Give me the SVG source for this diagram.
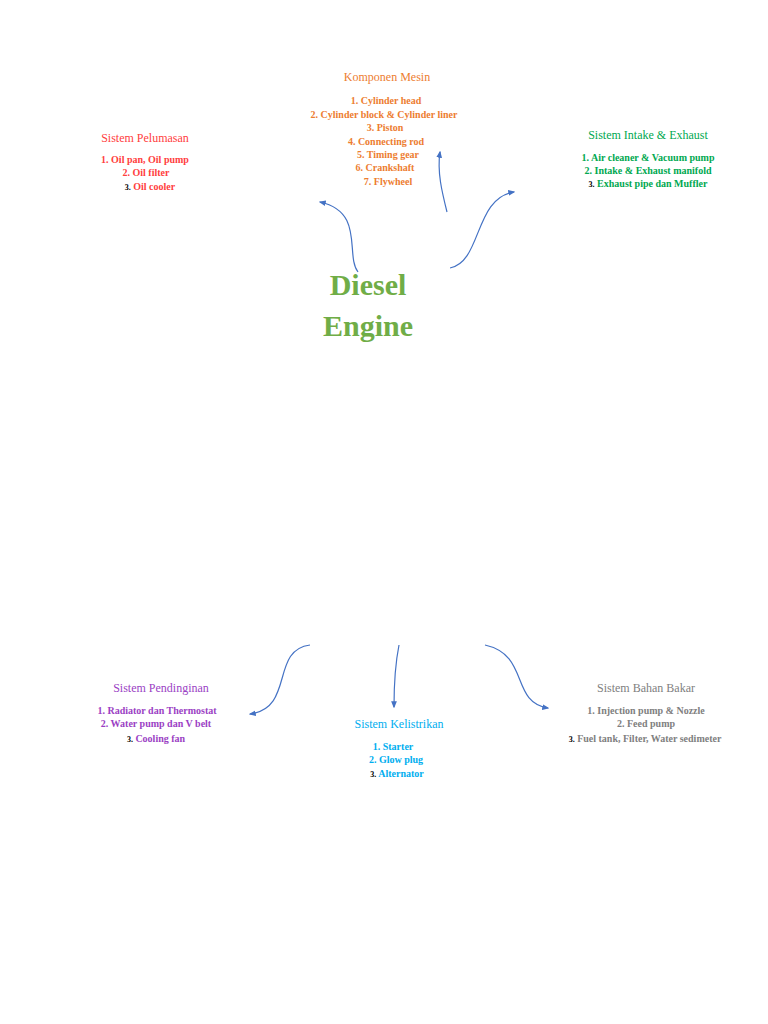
<svg xmlns="http://www.w3.org/2000/svg" width="768" height="1024" viewBox="0 0 768 1024">
<style>
text{font-family:"Liberation Serif","Times New Roman",serif;text-anchor:middle}
.h{font-size:12px}
.i{font-size:10px;font-weight:bold}
.k{fill:#000;font-size:8px}
.or{fill:#ED7D31}.rd{fill:#FF4040}.gr{fill:#00A850}.pu{fill:#9B3FC4}.cy{fill:#00AEEF}.gy{fill:#808080}
.c{fill:none;stroke:#4472C4;stroke-width:1.2;marker-end:url(#a)}
</style>
<defs><marker id="a" viewBox="0 0 10 10" refX="8" refY="5" markerWidth="6" markerHeight="6" orient="auto"><path d="M0,1 L10,5 L0,9 z" fill="#4472C4"/></marker></defs>
<rect width="768" height="1024" fill="#fff"/>
<g id="center"><text x="368" y="295" font-size="30" font-weight="bold" fill="#70AD47">Diesel</text><text x="368" y="336" font-size="30" font-weight="bold" fill="#70AD47">Engine</text></g>
<g id="komponen" class="or">
<text class="h or" x="387" y="81">Komponen Mesin</text>
<text class="i or" x="386" y="104">1.   Cylinder head</text>
<text class="i or" x="384" y="118">2.   Cylinder block &amp; Cylinder liner</text>
<text class="i or" x="385" y="131">3.   Piston</text>
<text class="i or" x="386" y="145">4.   Connecting rod</text>
<text class="i or" x="388" y="158">5.   Timing gear</text>
<text class="i or" x="385" y="171">6.   Crankshaft</text>
<text class="i or" x="388" y="185">7.   Flywheel</text>
</g>
<g id="pelumasan">
<text class="h rd" x="145" y="142">Sistem Pelumasan</text>
<text class="i rd" x="145" y="163">1.   Oil pan, Oil pump</text>
<text class="i rd" x="146" y="176">2.   Oil filter</text>
<text class="i rd" x="150" y="190"><tspan class="k">3.</tspan>   Oil cooler</text>
</g>
<g id="intake">
<text class="h gr" x="648" y="139">Sistem Intake &amp; Exhaust</text>
<text class="i gr" x="648" y="161">1.   Air cleaner &amp; Vacuum pump</text>
<text class="i gr" x="648" y="174">2.   Intake &amp; Exhaust manifold</text>
<text class="i gr" x="648" y="187"><tspan class="k">3.</tspan>   Exhaust pipe dan Muffler</text>
</g>
<g id="pendinginan">
<text class="h pu" x="161" y="692">Sistem Pendinginan</text>
<text class="i pu" x="157" y="714">1.   Radiator dan Thermostat</text>
<text class="i pu" x="156" y="727">2.   Water pump dan V belt</text>
<text class="i pu" x="156" y="742"><tspan class="k">3.</tspan>   Cooling fan</text>
</g>
<g id="kelistrikan">
<text class="h cy" x="399" y="728">Sistem Kelistrikan</text>
<text class="i cy" x="393" y="750">1.   Starter</text>
<text class="i cy" x="396" y="763">2.   Glow plug</text>
<text class="i cy" x="397" y="777"><tspan class="k">3.</tspan>   Alternator</text>
</g>
<g id="bahanbakar">
<text class="h gy" x="646" y="692">Sistem Bahan Bakar</text>
<text class="i gy" x="646" y="714">1.   Injection pump &amp; Nozzle</text>
<text class="i gy" x="646" y="727">2.   Feed pump</text>
<text class="i gy" x="645" y="742"><tspan class="k">3.</tspan>   Fuel tank, Filter, Water sedimeter</text>
</g>
<g id="connectors">
<path class="c" d="M358,272 C345,255 365,212 320,202"/>
<path class="c" d="M447,212 C442,192 437,172 440,152"/>
<path class="c" d="M450,268 C482,262 474,198 514,192"/>
<path class="c" d="M310,645 C270,650 295,708 250,714"/>
<path class="c" d="M399,645 C395,665 394,688 394,707"/>
<path class="c" d="M485,645 C530,655 510,702 548,708"/>
</g>
</svg>
